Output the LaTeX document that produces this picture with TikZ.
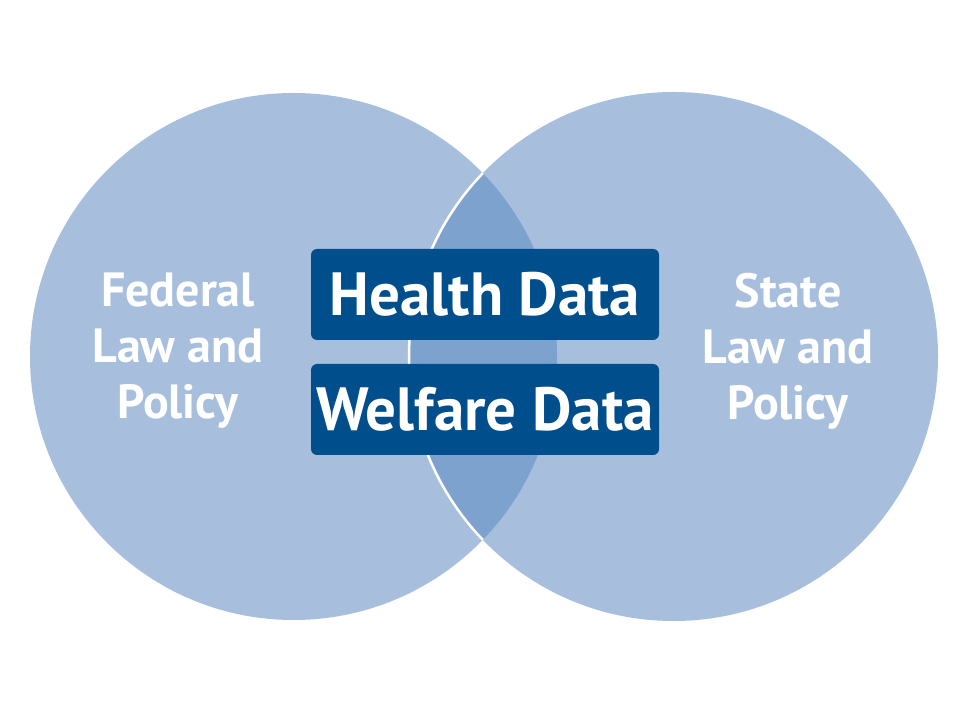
\documentclass[tikz,border=0pt]{standalone}
\usepackage{fontspec}
\setmainfont{PT Sans}
\definecolor{circ}{HTML}{A7BFDD}
\definecolor{lens}{HTML}{7DA2CD}
\definecolor{boxblue}{HTML}{004E8C}
\begin{document}
\begin{tikzpicture}[x=1pt,y=1pt,
  sidelabel/.style={text=white,align=center,font=\fontsize{48}{56}\selectfont\bfseries},
  databox/.style={fill=boxblue,rounded corners=6pt,minimum width=348pt,minimum height=91pt,inner sep=0pt,text=white,font=\fontsize{61}{62}\selectfont\bfseries}]
\useasboundingbox (0,0) rectangle (960,720);
\fill[white] (0,0) rectangle (960,720);
\coordinate (cl) at (293.5,363.5);
\coordinate (cr) at (673.5,363.5);
\fill[circ] (cl) circle (263.5);
\fill[circ] (cr) circle (264.5);
\begin{scope}
  \clip (cl) circle (263.5);
  \fill[lens] (cr) circle (264.5);
  \draw[white,line width=2.5pt] (cr) circle (264.5);
\end{scope}
\node[sidelabel] (fed) at (178,369) {Federal\\Law and\\Policy};
\node[sidelabel] (state) at (788,369) {State\\Law and\\Policy};
\node[databox] (health) at (485,425.5) {Health Data};
\node[databox] (welfare) at (485,310.5) {Welfare Data};
\end{tikzpicture}
\end{document}
